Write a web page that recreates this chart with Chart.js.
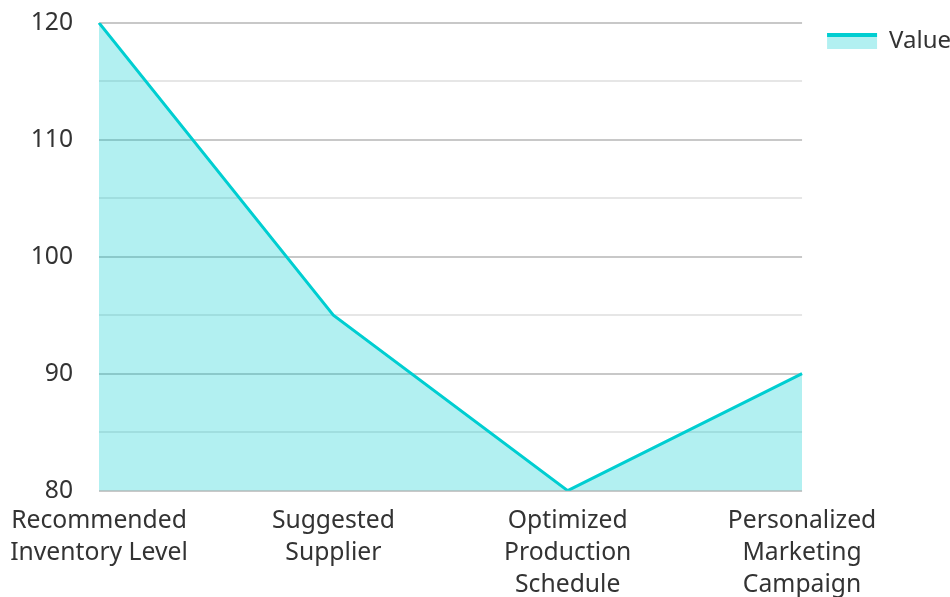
<!DOCTYPE html>
<html><head><meta charset="utf-8">
<script src="https://cdn.jsdelivr.net/npm/chart.js@4/dist/chart.umd.min.js"></script>
<style>html,body{margin:0;padding:0;background:#fff}#wrap{width:950px;height:597px}</style>
</head><body><div id="wrap"><canvas id="c"></canvas></div>
<script>
const categories = [["Recommended","Inventory Level"],["Suggested","Supplier"],["Optimized","Production","Schedule"],["Personalized","Marketing","Campaign"]];
const values = [120, 95, 80, 90];
const seriesName = "Value";
const yMin = 80, yMax = 120, yStep = 5;

const lineColor = "#00CED1";
const fillColor = "rgba(0,206,209,0.3)";
const textColor = "#333";
const FONT = { family: 'Noto Sans', size: 24.7, lineHeight: 1.3 };

const legendTopLine = {
  id: 'legendTopLine',
  afterDraw(chart) {
    const lg = chart.legend;
    if (!lg || !lg.legendHitBoxes) return;
    const ctx = chart.ctx;
    const bw = lg.options.labels.boxWidth;
    const h = lg.options.labels.boxHeight;
    lg.legendHitBoxes.forEach(b => {
      const fs = lg.options.labels.font.size;
      const top = b.top + fs / 2 - h / 2;
      ctx.save();
      ctx.fillStyle = lineColor;
      ctx.fillRect(b.left, top, bw, 4);
      ctx.restore();
    });
  }
};

new Chart(document.getElementById('c'), {
  type: 'line',
  data: {
    labels: categories,
    datasets: [{
      label: seriesName,
      data: values,
      borderColor: lineColor,
      backgroundColor: fillColor,
      borderWidth: 3,
      fill: 'start',
      pointRadius: 0,
      tension: 0
    }]
  },
  options: {
    responsive: true,
    maintainAspectRatio: false,
    animation: false,
    layout: { padding: { top: 4, right: -11, left: 0, bottom: -10 } },
    plugins: {
      legend: {
        position: 'right',
        align: 'start',
        labels: {
          boxWidth: 50,
          boxHeight: 16,
          padding: 25,
          color: textColor,
          font: { family: 'Noto Sans', size: 24 },
          generateLabels(chart) {
            return [{ text: seriesName, fillStyle: fillColor, strokeStyle: fillColor, lineWidth: 0, datasetIndex: 0, fontColor: textColor }];
          }
        }
      },
      tooltip: { enabled: false }
    },
    scales: {
      x: {
        offset: false,
        grid: { display: false },
        border: { display: false },
        ticks: { color: textColor, font: FONT, maxRotation: 0, autoSkip: false, padding: 6 }
      },
      y: {
        min: yMin, max: yMax,
        border: { display: false },
        afterFit(scale) { scale.width = 99; },
        grid: {
          color: ctx => (ctx.tick && ctx.tick.value % 10 === 0) ? '#c8c8c8' : '#e6e6e6',
          lineWidth: 2,
          drawTicks: true,
          tickLength: 18,
          tickColor: 'rgba(0,0,0,0)'
        },
        ticks: {
          stepSize: yStep,
          color: textColor,
          font: { family: 'Noto Sans', size: 24.7 },
          padding: 8,
          callback: v => (v % 10 === 0 ? v : '')
        }
      }
    }
  },
  plugins: [legendTopLine]
});
</script></body></html>
